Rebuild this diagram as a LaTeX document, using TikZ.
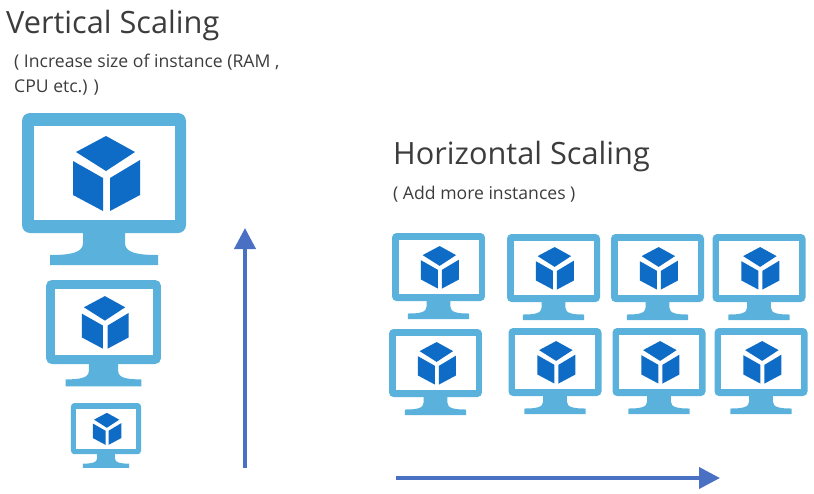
\documentclass[tikz,border=0pt]{standalone}
\usepackage{fontspec}
\setmainfont{Open Sans}
\usetikzlibrary{arrows.meta}
\definecolor{framecol}{HTML}{5AB2DC}
\definecolor{cubecol}{HTML}{0F6CC6}
\definecolor{arrowcol}{HTML}{4A70C4}
\definecolor{textcol}{HTML}{3C3C3C}
\tikzstyle{title}=[anchor=base west,inner sep=0pt,text=textcol,font=\fontsize{30.7}{33}\selectfont]
\tikzstyle{note}=[anchor=base west,inner sep=0pt,text=textcol,font=\fontsize{17.6}{20}\selectfont]
\tikzstyle{growth} = [draw=arrowcol,line width=4pt,-{Triangle[width=21pt,length=21pt]}]
\tikzset{
  pics/monitor/.style={code={
    \begin{scope}[scale=#1]
      \fill[framecol,rounded corners=#1*8pt] (-82,0) rectangle (82,120);
      \fill[white] (-70,13) rectangle (71,107);
      \fill[framecol] (-21,120) -- (-21,130) .. controls (-21,140) and (-34,142) .. (-54,142)
        -- (-54,152) -- (54,152) -- (54,142) .. controls (34,142) and (21,140) .. (21,130) -- (21,120) -- cycle;
      \fill[cubecol] (2,23) -- (-28,39) -- (2,58) -- (31,39) -- cycle;
      \fill[cubecol] (-31,48) -- (-31,82) -- (-1,98) -- (-1,65) -- cycle;
      \fill[cubecol] (6,65) -- (6,98) -- (36,82) -- (36,47) -- cycle;
    \end{scope}
  }}
}
\begin{document}
\begin{tikzpicture}[x=1pt,y=-1pt]
    \useasboundingbox (0,0) rectangle (814,493);
    % First we draw the texts
    \node[title] (vtitle) at (6,33) {Vertical Scaling};
    \node[note] (vnote1) at (14,67) {( Increase size of instance (RAM ,};
    \node[note] (vnote2) at (14,92) {CPU etc.) )};
    \node[title] (htitle) at (393,164) {Horizontal Scaling};
    \node[note] (hnote) at (393,199) {( Add more instances )};
    % Then the monitors
    \foreach \pos/\name/\size in {{(104,113)/vbig/1}, {(103.5,280)/vmid/0.7}, {(106,403)/vsmall/0.427},
        {(438.5,233)/h1/0.567}, {(553.5,234)/h2/0.567}, {(657.5,234)/h3/0.567}, {(759,234)/h4/0.567},
        {(435.5,329)/h5/0.567}, {(555,328)/h6/0.567}, {(659,328)/h7/0.567}, {(761,328)/h8/0.567}}
        \pic (\name) at \pos {monitor=\size};
    % Arrow ends
    \coordinate (vfrom) at (245,468);
    \coordinate (vto) at (245,228);
    \coordinate (hfrom) at (396,478);
    \coordinate (hto) at (720,478);
    \path[growth] (vfrom) -- (vto);
    \path[growth] (hfrom) -- (hto);
\end{tikzpicture}
\end{document}
